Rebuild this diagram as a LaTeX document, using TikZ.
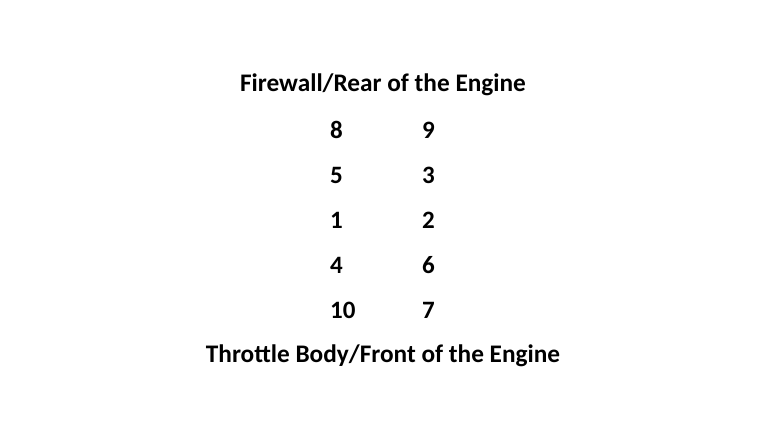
\documentclass[tikz,border=0pt]{standalone}
\usepackage{fontspec}
\setmainfont{Carlito}
\usepackage{tikz}

\begin{document}
\begin{tikzpicture}[x=1pt,y=1pt,
    label/.style={font=\bfseries\fontsize{25.3}{30}\selectfont,inner sep=0pt},
    cyl/.style={font=\bfseries\fontsize{25}{30}\selectfont,inner sep=0pt,anchor=west}]
    \useasboundingbox[fill=white] (0,0) rectangle (768,432);

    \node[label] (rear) at (383,347) {Firewall/Rear of the Engine};
    \node[label] (front) at (383,76) {Throttle Body/Front of the Engine};

    \node[cyl] (c8) at (330,302) {8};
    \node[cyl] (c9) at (422,302) {9};
    \node[cyl] (c5) at (330,257) {5};
    \node[cyl] (c3) at (422,257) {3};
    \node[cyl] (c1) at (330,212) {1};
    \node[cyl] (c2) at (422,212) {2};
    \node[cyl] (c4) at (330,167) {4};
    \node[cyl] (c6) at (422,167) {6};
    \node[cyl] (c10) at (330,122) {10};
    \node[cyl] (c7) at (422,122) {7};
\end{tikzpicture}
\end{document}
